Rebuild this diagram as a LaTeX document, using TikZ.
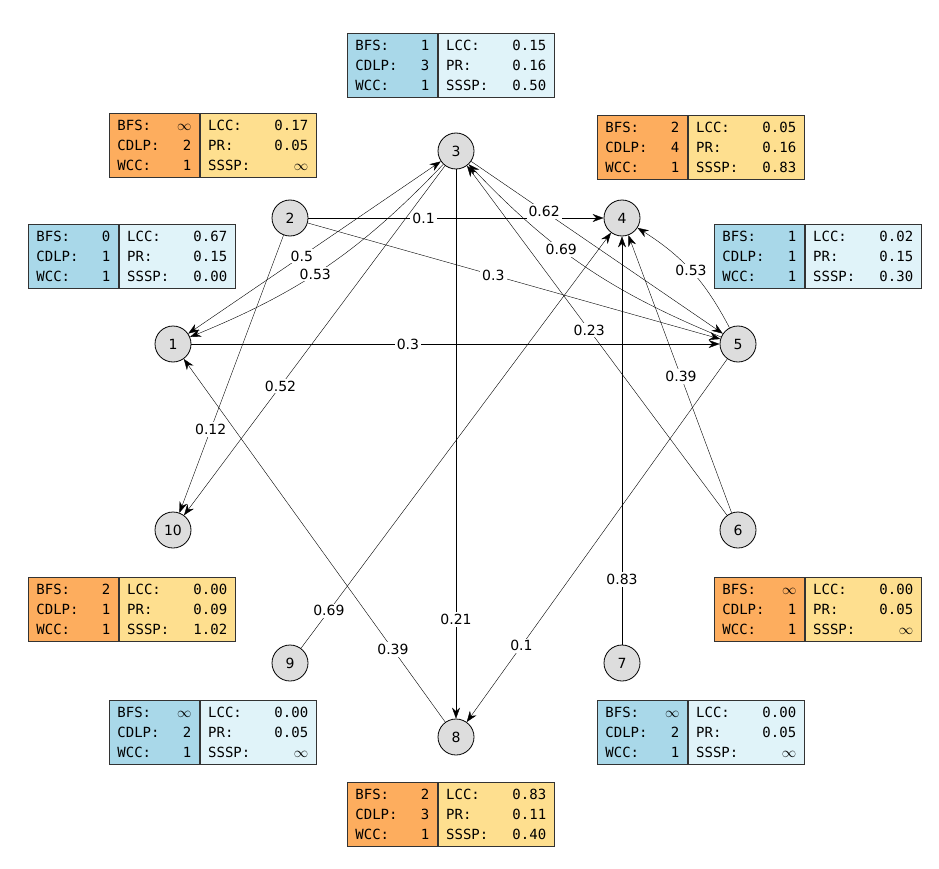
\documentclass[tikz,border=0pt]{standalone}
\usepackage{fontspec}
\setmainfont{DejaVu Sans}
\newfontfamily\statfont{DejaVu Sans Mono}
\usetikzlibrary{arrows.meta}
\definecolor{bluedark}{HTML}{A9D8E9}
\definecolor{bluelight}{HTML}{E0F3F9}
\definecolor{orangedark}{HTML}{FDAD5E}
\definecolor{orangelight}{HTML}{FEDF8F}
\definecolor{vertexfill}{HTML}{DDDDDD}

% statistics box: name, position, palette, BFS, CDLP, WCC, LCC, PR, SSSP
\newcommand{\statbox}[9]{
	\node [leftcell, fill=#3dark] (#1l) at #2 {BFS:\hfill #4\\CDLP:\hfill #5\\WCC:\hfill #6};
	\node [rightcell, fill=#3light] (#1r) at (#1l.north east) {LCC:\hfill #7\\PR:\hfill #8\\SSSP:\hfill #9};
}

\begin{document}
\begin{tikzpicture}[
	x=1pt, y=-1pt,
	vertex/.style={
		circle, draw=black, thick, fill=vertexfill,
		minimum size=36pt, inner sep=0pt, font=\fontsize{14}{16}\selectfont
	},
	leftcell/.style={
		rectangle, draw=black!80, thick, anchor=north west,
		minimum width=90pt, minimum height=64pt, text width=74pt, align=left,
		font=\statfont\fontsize{14}{20}\selectfont
	},
	rightcell/.style={leftcell, minimum width=116pt, text width=100pt},
	line/.style={draw, -{Stealth[length=11pt,width=8pt]}},
	weight/.style={fill=white, inner sep=2pt, font=\fontsize{14}{16}\selectfont},
	]
	\useasboundingbox (0,0) rectangle (939,869);

	\node [vertex] (n1) at (173,344) {1};
	\node [vertex] (n2) at (290,218) {2};
	\node [vertex] (n3) at (456,151) {3};
	\node [vertex] (n4) at (622,218) {4};
	\node [vertex] (n5) at (738,344) {5};
	\node [vertex] (n6) at (738,530) {6};
	\node [vertex] (n7) at (622,663) {7};
	\node [vertex] (n8) at (456,737) {8};
	\node [vertex] (n9) at (290,663) {9};
	\node [vertex] (n10) at (173,530) {10};

	\statbox{s3}{(347,33)}{blue}{1}{3}{1}{0.15}{0.16}{0.50}
	\statbox{s2}{(109,113)}{orange}{$\infty$}{2}{1}{0.17}{0.05}{$\infty$}
	\statbox{s4}{(597,115)}{orange}{2}{4}{1}{0.05}{0.16}{0.83}
	\statbox{s1}{(28,224)}{blue}{0}{1}{1}{0.67}{0.15}{0.00}
	\statbox{s5}{(714,224)}{blue}{1}{1}{1}{0.02}{0.15}{0.30}
	\statbox{s10}{(28,577)}{orange}{2}{1}{1}{0.00}{0.09}{1.02}
	\statbox{s6}{(714,577)}{orange}{$\infty$}{1}{1}{0.00}{0.05}{$\infty$}
	\statbox{s9}{(109,700)}{blue}{$\infty$}{2}{1}{0.00}{0.05}{$\infty$}
	\statbox{s7}{(597,700)}{blue}{$\infty$}{2}{1}{0.00}{0.05}{$\infty$}
	\statbox{s8}{(347,782)}{orange}{2}{3}{1}{0.83}{0.11}{0.40}

	\path [line] (n2) -- node [weight, pos=0.39] {0.1} (n4);
	\path [line] (n2) -- node [weight, pos=0.45] {0.3} (n5);
	\path [line] (n2) -- node [weight, pos=0.7] {0.12} (n10);
	\path [line, {Stealth[length=11pt,width=8pt]}-{Stealth[length=11pt,width=8pt]}] (n1) -- node [weight, pos=0.45] {0.5} (n3);
	\path [line] (n3) to [bend left=12] node [weight, pos=0.55] {0.53} (n1);
	\path [line] (n3) -- node [weight, pos=0.63] {0.52} (n10);
	\path [line] (n3) -- node [weight, pos=0.82] {0.21} (n8);
	\path [line] (n3) -- node [weight, pos=0.29] {0.62} (n5);
	\path [line] (n5) to [bend left=12] node [weight, pos=0.6] {0.69} (n3);
	\path [line] (n6) -- node [weight, pos=0.53] {0.23} (n3);
	\path [line] (n6) -- node [weight, pos=0.49] {0.39} (n4);
	\path [line] (n5) to [bend right=15] node [weight] {0.53} (n4);
	\path [line] (n1) -- node [weight, pos=0.41] {0.3} (n5);
	\path [line] (n7) -- node [weight, pos=0.16] {0.83} (n4);
	\path [line] (n5) -- node [weight, pos=0.79] {0.1} (n8);
	\path [line] (n9) -- node [weight, pos=0.09] {0.69} (n4);
	\path [line] (n8) -- node [weight, pos=0.2] {0.39} (n1);
\end{tikzpicture}
\end{document}
